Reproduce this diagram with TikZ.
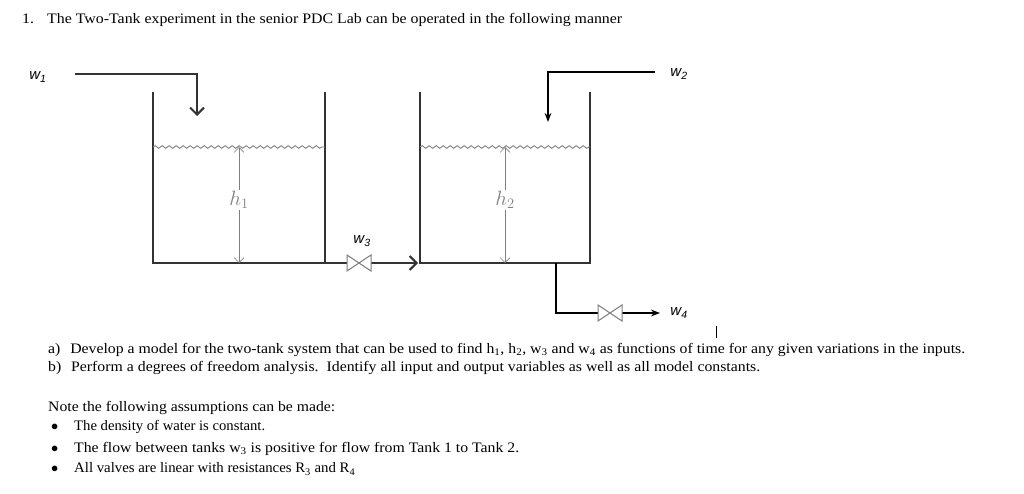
\documentclass[tikz,border=0pt]{standalone}
\usepackage{fontspec}
\setmainfont{Liberation Serif}
\newfontfamily\lsans{Liberation Sans}
\usetikzlibrary{arrows.meta,decorations.pathmorphing}
\newcommand{\fitw}[2]{\resizebox{#1pt}{\height}{#2}}
\begin{document}
\begin{tikzpicture}[x=1pt,y=-1pt,
  wall/.style={line width=2pt,draw=black!80},
  pipe/.style={line width=2pt,draw=black!80},
  water/.style={gray,line width=0.9pt,decorate,decoration={snake,amplitude=1.3pt,segment length=7pt}},
  lab/.style={font=\lsans\itshape\fontsize{15}{15}\selectfont,inner sep=0pt},
  hl/.style={gray,font=\fontsize{21}{21}\selectfont,inner sep=1pt},
  txt/.style={anchor=west,inner sep=0pt,font=\fontsize{14.5}{16}\selectfont},
  valve/.style={gray,line width=1pt,fill=white}]
\useasboundingbox (0,0) rectangle (1024,494);
% tanks
\draw[wall] (153,92) -- (153,263) -- (325,263) -- (325,92);
\draw[wall] (420,92) -- (420,263) -- (590,263) -- (590,92);
\draw[water] (153,147) -- (325,147);
\draw[water] (420,147) -- (590,147);
\coordinate (t1) at (239,147); \coordinate (b1) at (239,263);
\coordinate (t2) at (505,147); \coordinate (b2) at (505,263);
\node[hl] (h1) at (239,200) {$h_1$};
\node[hl] (h2) at (505,200) {$h_2$};
\draw[gray,line width=0.6pt,-{Straight Barb[length=5pt]}] (h1.north) -- (t1);
\draw[gray,line width=0.6pt,-{Straight Barb[length=5pt]}] (h1.south) -- (b1);
\draw[gray,line width=0.6pt,-{Straight Barb[length=5pt]}] (h2.north) -- (t2);
\draw[gray,line width=0.6pt,-{Straight Barb[length=5pt]}] (h2.south) -- (b2);
% inflows
\node[lab] (w1) at (38,77) {w\textsubscript{1}};
\coordinate (w1s) at (75,74); \coordinate (w1e) at (197,116);
\draw[pipe,-{Straight Barb[length=7pt]}] (w1s) -| (w1e);
\node[lab] (w2) at (679,74) {w\textsubscript{2}};
\coordinate (w2s) at (655,72); \coordinate (w2e) at (548,122);
\draw[line width=2.2pt,-{Stealth[length=9pt]}] (w2s) -| (w2e);
% w3
\node[lab] (w3) at (362,241) {w\textsubscript{3}};
\coordinate (v3) at (359,263);
\draw[line width=2pt,draw=black!80,-{Straight Barb[length=7pt]}] (325,263) -- (418,263);
\draw[valve] (v3) ++(-12,-8) -- ++(24,16) -- ++(0,-16) -- ++(-24,16) -- cycle;
% outlet
\coordinate (o1) at (556,263); \coordinate (o2) at (660,313);
\draw[line width=2.2pt,-{Stealth[length=9pt]}] (o1) |- (o2);
\coordinate (v4) at (610,313);
\draw[valve] (v4) ++(-12,-8) -- ++(24,16) -- ++(0,-16) -- ++(-24,16) -- cycle;
\node[lab] (w4) at (679,313) {w\textsubscript{4}};
\draw[line width=1pt] (716,326) -- (716,338);
% texts
\node[txt] (t0) at (22,20) {\fitw{600}{1.\hspace{12pt}The Two-Tank experiment in the senior PDC Lab can be operated in the following manner}};
\node[txt] (ta) at (48,350) {\fitw{917}{a)\hspace{9pt}Develop a model for the two-tank system that can be used to find h\textsubscript{1}, h\textsubscript{2}, w\textsubscript{3} and w\textsubscript{4} as functions of time for any given variations in the inputs.}};
\node[txt] (tb) at (48,368) {\fitw{712}{b)\hspace{9pt}Perform a degrees of freedom analysis.\ \ Identify all input and output variables as well as all model constants.}};
\node[txt] (tn) at (48,408) {\fitw{287}{Note the following assumptions can be made:}};
\foreach \y/\w/\s [count=\i] in {427/191/{The density of water is constant.},449/445/{The flow between tanks w\textsubscript{3} is positive for flow from Tank 1 to Tank 2.},469/281/{All valves are linear with resistances R\textsubscript{3} and R\textsubscript{4}}}{
  \node[txt] (bul\i) at (51,\y) {$\bullet$};
  \node[txt] (bt\i) at (74,\y) {\fitw{\w}{\s}};
}
\end{tikzpicture}
\end{document}
